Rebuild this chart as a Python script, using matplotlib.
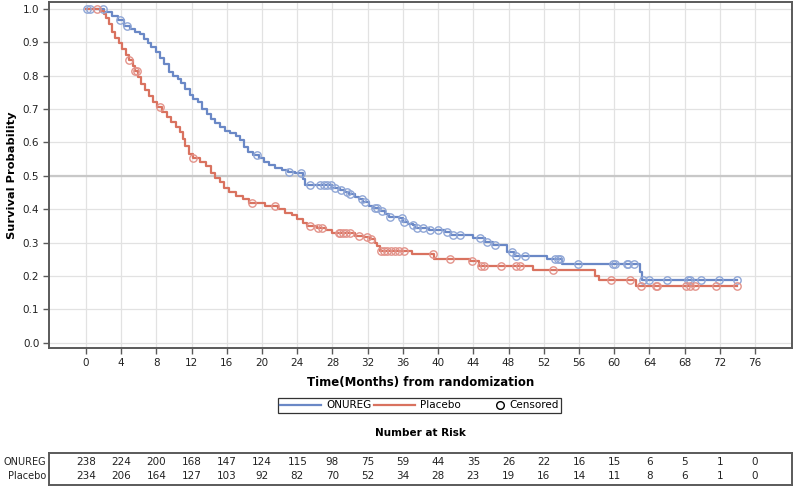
import numpy as np
import matplotlib
matplotlib.use("Agg")
import matplotlib.pyplot as plt
from matplotlib.lines import Line2D
from matplotlib.legend_handler import HandlerLine2D

plt.rcParams['font.family'] = ['DejaVu Sans']

# Kaplan-Meier step points (months, survival after the step)
onureg_t = [0, 2.0, 3.0, 3.6, 4.3, 5.0, 5.6, 6.1, 6.6, 7.0, 7.4, 7.9, 8.4, 8.9, 9.4, 9.9,
            10.4, 10.8, 11.3, 11.8, 12.2, 12.7, 13.2, 13.7, 14.2, 14.7, 15.2, 15.8, 16.4,
            17.0, 17.5, 18.0, 18.4, 19.0, 19.6, 20.2, 20.8, 21.5, 22.3, 23.0, 23.7, 24.7,
            24.9, 28.0, 28.8, 29.4, 29.9, 30.5, 31.0, 31.5, 32.2, 32.6, 33.3, 34.0, 34.4,
            35.5, 36.0, 36.6, 37.1, 37.4, 39.0, 40.8, 41.5, 44.0, 45.3, 46.2, 47.8, 48.6,
            52.4, 54.1, 62.9, 63.2, 73.9]
onureg_s = [1.0, 0.992, 0.98, 0.968, 0.95, 0.94, 0.93, 0.925, 0.91, 0.897, 0.885, 0.87,
            0.853, 0.835, 0.812, 0.80, 0.79, 0.778, 0.76, 0.742, 0.73, 0.72, 0.70, 0.685,
            0.67, 0.657, 0.647, 0.635, 0.627, 0.618, 0.608, 0.585, 0.572, 0.563, 0.553,
            0.542, 0.533, 0.523, 0.516, 0.511, 0.508, 0.49, 0.472, 0.463, 0.458, 0.451,
            0.445, 0.438, 0.43, 0.423, 0.41, 0.403, 0.395, 0.385, 0.378, 0.373, 0.363,
            0.355, 0.353, 0.343, 0.338, 0.333, 0.323, 0.313, 0.303, 0.293, 0.273, 0.26,
            0.25, 0.235, 0.213, 0.189, 0.189]
onureg_cens = [0.1, 0.5, 1.9, 3.9, 4.7, 19.4, 23.1, 24.4, 25.5, 26.6, 27.0, 27.4, 27.8,
               28.3, 29.0, 29.6, 30.0, 31.3, 31.7, 32.8, 33.1, 33.6, 34.5, 35.9, 36.1,
               37.2, 37.6, 38.3, 39.1, 40.0, 41.0, 41.7, 42.5, 44.8, 45.5, 46.5, 48.4,
               48.8, 49.9, 53.3, 53.6, 53.9, 55.9, 59.9, 60.1, 61.4, 61.6, 62.2, 63.3,
               63.9, 66.0, 68.4, 68.6, 69.9, 71.9, 73.9]

placebo_t = [0, 1.6, 2.0, 2.3, 2.6, 2.9, 3.3, 3.7, 4.1, 4.5, 4.9, 5.3, 5.6, 5.9, 6.3, 6.7,
             7.1, 7.6, 8.1, 8.6, 9.2, 9.7, 10.2, 10.7, 11.0, 11.3, 11.7, 12.1, 12.9, 13.6,
             14.2, 14.7, 15.2, 15.7, 16.3, 17.0, 17.8, 18.5, 20.3, 21.8, 22.6, 23.4, 24.0,
             24.6, 25.1, 26.2, 27.3, 28.0, 30.5, 31.6, 32.3, 32.8, 33.1, 33.4, 37.0, 39.5,
             43.6, 44.6, 50.8, 57.8, 58.3, 62.5, 73.9]
placebo_s = [1.0, 0.995, 0.985, 0.972, 0.955, 0.93, 0.912, 0.898, 0.88, 0.862, 0.847,
             0.83, 0.815, 0.797, 0.775, 0.758, 0.74, 0.722, 0.705, 0.69, 0.675, 0.66,
             0.645, 0.63, 0.61, 0.59, 0.565, 0.553, 0.54, 0.528, 0.51, 0.495, 0.482,
             0.465, 0.452, 0.44, 0.43, 0.418, 0.41, 0.40, 0.39, 0.383, 0.37, 0.36, 0.351,
             0.345, 0.338, 0.33, 0.321, 0.316, 0.31, 0.30, 0.289, 0.276, 0.266, 0.25,
             0.244, 0.23, 0.217, 0.20, 0.187, 0.169, 0.169]
placebo_cens = [1.3, 4.9, 5.6, 5.8, 8.4, 12.2, 18.9, 21.5, 25.4, 26.4, 26.8, 28.7, 28.9,
                29.2, 29.5, 30.0, 31.0, 31.9, 32.4, 33.5, 33.8, 34.2, 34.6, 35.1, 35.6,
                36.1, 39.4, 41.3, 43.8, 44.9, 45.2, 47.1, 48.9, 49.3, 53.0, 59.6, 61.8,
                63.0, 64.7, 64.9, 68.1, 68.6, 69.2, 71.6, 73.9]

risk_times = list(range(0, 77, 4))
risk_onureg = [238, 224, 200, 168, 147, 124, 115, 98, 75, 59, 44, 35, 26, 22, 16, 15, 6, 5, 1, 0]
risk_placebo = [234, 206, 164, 127, 103, 92, 82, 70, 52, 34, 28, 23, 19, 16, 14, 11, 8, 6, 1, 0]

blue = '#6A88C6'
red = '#D9725F'
blue_c = '#8FA6D6'
red_c = '#E3938A'
spine_col = '#5A5A5A'
xlim = (-4.2, 80.2)

fig = plt.figure(figsize=(7.96, 4.87), dpi=100)
ax = fig.add_axes([0.0616, 0.2854, 0.9334, 0.7105])


def censor_y(t_steps, s_steps, cens):
    idx = np.searchsorted(t_steps, cens, side='right') - 1
    return np.asarray(s_steps)[idx]


ax.axhline(0.5, color='#C8C8C8', lw=1.6, zorder=1)
for t, s, c, col, ccol in [(onureg_t, onureg_s, onureg_cens, blue, blue_c),
                           (placebo_t, placebo_s, placebo_cens, red, red_c)]:
    ax.step(t, s, where='post', color=col, lw=1.6, zorder=3)
    ax.plot(c, censor_y(t, s, c), ls='none', marker='o', ms=5.3, mfc='none',
            mec=ccol, mew=1.0, zorder=4)

ax.set_xlim(*xlim)
ax.set_ylim(-0.016, 1.021)
ax.set_xticks(risk_times)
ax.set_yticks(np.arange(0, 1.01, 0.1))
ax.set_yticklabels([f'{v:.1f}' for v in np.arange(0, 1.01, 0.1)])
ax.grid(True, color='#E2E2E2', lw=0.9, zorder=0)
ax.set_axisbelow(True)
ax.tick_params(labelsize=7.5, length=4, color=spine_col, width=1, pad=3,
               labelcolor='#222222')
for sp in ax.spines.values():
    sp.set_color(spine_col)
    sp.set_linewidth(1.4)
ax.set_xlabel('Time(Months) from randomization', fontsize=8.5, fontweight='bold', labelpad=6)
ax.set_ylabel('Survival Probability', fontsize=8.2, fontweight='bold', labelpad=4)


class ShortHandler(HandlerLine2D):
    # marker only, placed right next to its label
    def create_artists(self, legend, orig_handle, xdescent, ydescent, width, height,
                       fontsize, trans):
        w = 0.8 * fontsize
        return super().create_artists(legend, orig_handle, xdescent - (width - w),
                                      ydescent, w, height, fontsize, trans)


cens_handle = Line2D([], [], ls='none', marker='o', ms=5.5, mfc='none', mec='black', mew=1)
handles = [Line2D([], [], color=blue, lw=1.6),
           Line2D([], [], color=red, lw=1.6),
           cens_handle]
leg = fig.legend(handles, ['ONUREG', 'Placebo', 'Censored'], loc='center',
                 bbox_to_anchor=(0.527, 0.168), ncol=3, fontsize=7.5, frameon=True,
                 fancybox=False, handlelength=3.9, handletextpad=0.5, columnspacing=0.25,
                 borderpad=0.25, edgecolor='black',
                 handler_map={cens_handle: ShortHandler()})
leg.get_frame().set_linewidth(0.9)

fig.text(0.528, 0.111, 'Number at Risk', ha='center', va='center', fontsize=7.5,
         fontweight='bold')

# risk table
tab = fig.add_axes([0.0616, 0.004, 0.9334, 0.066])
tab.set_xlim(*xlim)
tab.set_ylim(0, 1)
tab.set_xticks([])
tab.set_yticks([])
for sp in tab.spines.values():
    sp.set_color(spine_col)
    sp.set_linewidth(1.4)
for x, a, b in zip(risk_times, risk_onureg, risk_placebo):
    tab.text(x, 0.73, str(a), ha='center', va='center', fontsize=7.5, color='#222222')
    tab.text(x, 0.27, str(b), ha='center', va='center', fontsize=7.5, color='#222222')
tab.text(-4.5, 0.73, 'ONUREG', ha='right', va='center', fontsize=7.0, color='#222222')
tab.text(-4.5, 0.27, 'Placebo', ha='right', va='center', fontsize=7.0, color='#222222')

fig.savefig('out.png', dpi=100)
